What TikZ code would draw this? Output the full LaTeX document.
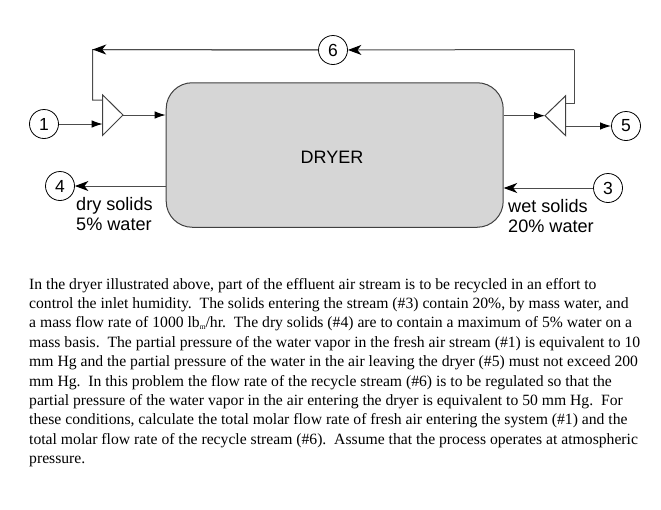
\documentclass[tikz,border=0pt]{standalone}
\usepackage{fontspec}
\setmainfont{Liberation Serif}
\newfontfamily\labelfont{Liberation Sans}
\usetikzlibrary{arrows.meta,calc}
\tikzset{
  line/.style={draw=black!70,line width=1pt},
  flow/.style={line,-{Latex[black,length=11pt,width=7.5pt]}},
  swept/.style={line,-{Stealth[black,length=13.5pt,width=10pt,inset=4pt]}},
  stream/.style={circle,draw=black,line width=0.8pt,fill=white,minimum size=29pt,inner sep=0pt,font=\labelfont\fontsize{17.5}{17.5}\selectfont},
  lab/.style={anchor=base west,inner sep=0pt,font=\labelfont\fontsize{18.1}{18.1}\selectfont},
  para/.style={anchor=base west,inner sep=0pt,font=\fontsize{15.67}{15.67}\selectfont},
  unit/.style={draw=black!75,line width=1pt,fill=white,line join=miter}
}
\begin{document}
\begin{tikzpicture}[x=1pt,y=-1pt]
\useasboundingbox (0,0) rectangle (661,509);
% dryer
\node[draw=black!75,line width=1pt,fill=black!16,rounded corners=26pt,minimum width=337pt,minimum height=144.5pt,inner sep=0pt] (dryer) at (334.7,155) {};
\node[anchor=base,inner sep=0pt,font=\labelfont\fontsize{18}{18}\selectfont] (dryerlabel) at (332,163) {DRYER};
% stream numbers
\node[stream] (s1) at (44,124) {1};
\node[stream] (s3) at (608,188) {3};
\node[stream] (s4) at (60,186) {4};
\node[stream] (s5) at (626,126) {5};
\node[stream] (s6) at (333,50) {6};
% mixer and splitter
\coordinate (mixT) at (102.7,95);
\coordinate (mixB) at (102.7,135.3);
\coordinate (mixA) at (123,115);
\coordinate (splitT) at (565.7,95.7);
\coordinate (splitB) at (565.7,135.7);
\coordinate (splitA) at (545,115.7);
\coordinate (mixIn) at (102.7,100);
\coordinate (splitOut) at (565.7,103.3);
\coordinate (recR) at (574.3,49.5);
\coordinate (recL) at (92.7,49.5);
\coordinate (mixC) at (92.7,100);
\coordinate (splitC) at (574.3,103.3);
\draw[line] (s6) -- (recL) -- (mixC) -- (mixIn);
\draw[swept] (s6) -- (recL);
\draw[line] (splitOut) -- (splitC) -- (recR);
\draw[swept] (recR) -- (s6);
\draw[flow] (s1) -- (s1 -| mixT);
\draw[flow] (mixA) -- (mixA -| dryer.west);
\draw[flow] (splitA -| dryer.east) -- (splitA);
\draw[flow] (s5 -| splitB) -- (s5);
\draw[swept] (s4 -| dryer.west) -- (s4);
\draw[swept] (s3) -- (s3 -| dryer.east);
\draw[unit] (mixT) -- (mixA) -- (mixB) -- cycle;
\draw[unit] (splitT) -- (splitA) -- (splitB) -- cycle;
% labels
\node[lab] (l1) at (76,210) {dry solids};
\node[lab] (l2) at (76,230) {5\% water};
\node[lab] (l3) at (508,212) {wet solids};
\node[lab] (l4) at (508,232) {20\% water};
% text
\node[para] (p1) at (29,289) {In the dryer illustrated above, part of the effluent air stream is to be recycled in an effort to};
\node[para] (p2) at (29,308.4) {control the inlet humidity.\ \ The solids entering the stream (\#3) contain 20\%, by mass water, and};
\node[para] (p3) at (29,327.8) {a mass flow rate of 1000 lb\raisebox{-2pt}{\fontsize{7.5}{7.5}\selectfont m}/hr.\ \ The dry solids (\#4) are to contain a maximum of 5\% water on a};
\node[para] (p4) at (29,347.2) {mass basis.\ \ The partial pressure of the water vapor in the fresh air stream (\#1) is equivalent to 10};
\node[para] (p5) at (29,366.6) {mm Hg and the partial pressure of the water in the air leaving the dryer (\#5) must not exceed 200};
\node[para] (p6) at (29,386) {mm Hg.\ \ In this problem the flow rate of the recycle stream (\#6) is to be regulated so that the};
\node[para] (p7) at (29,405.4) {partial pressure of the water vapor in the air entering the dryer is equivalent to 50 mm Hg.\ \ For};
\node[para] (p8) at (29,424.8) {these conditions, calculate the total molar flow rate of fresh air entering the system (\#1) and the};
\node[para] (p9) at (29,444.2) {total molar flow rate of the recycle stream (\#6).\ \ Assume that the process operates at atmospheric};
\node[para] (p10) at (29,463.6) {pressure.};
\end{tikzpicture}
\end{document}
